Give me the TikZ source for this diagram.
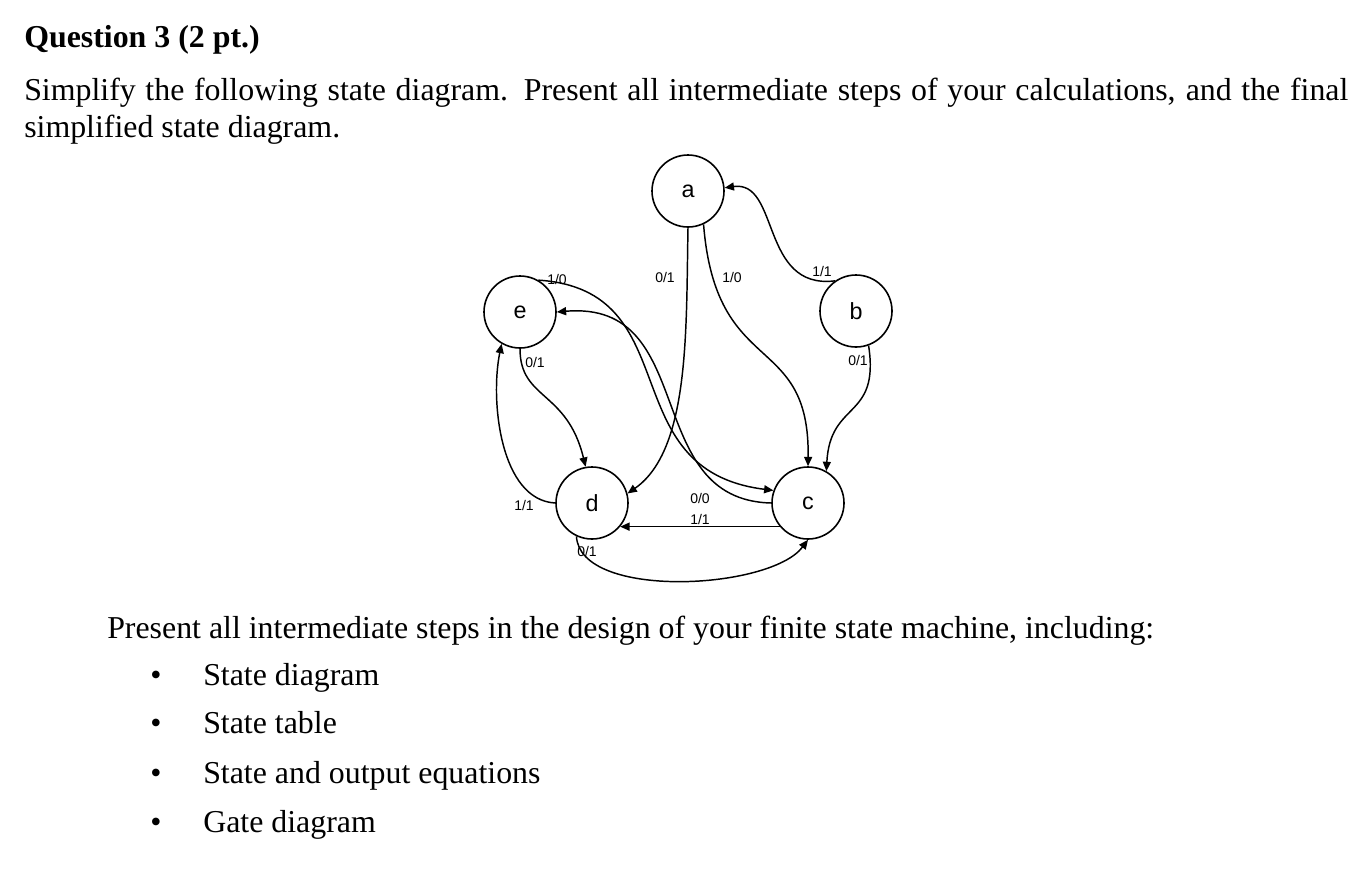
\documentclass[tikz,border=0pt]{standalone}
\usepackage{fontspec}
\setmainfont{Liberation Serif}
\newfontfamily\dsans{Liberation Sans}
\usetikzlibrary{arrows.meta}
\begin{document}
\begin{tikzpicture}[x=0.75pt,y=-0.75pt,
 st/.style={circle,draw,line width=1.2pt,minimum size=54pt,inner sep=0pt,font=\dsans\fontsize{17.5}{17.5}\selectfont},
 tr/.style={line width=1.1pt,-{Triangle[length=7pt,width=6pt]}},
 lb/.style={font=\dsans\fontsize{10.5}{11}\selectfont,inner sep=0pt},
 txt/.style={font=\fontsize{23.9}{28}\selectfont,inner sep=0pt,anchor=base west}]
\useasboundingbox (0,0) rectangle (1370,871);
\node[txt,font=\bfseries\fontsize{23.9}{28}\selectfont] (q) at (24,47) {Question 3 (2 pt.)};
\node[txt,text width=993pt,align=justify,anchor=base west] (p) at (24,100) {Simplify the following state diagram. Present all intermediate steps of your calculations, and the final simplified state diagram.};
\node[txt] (pr) at (107,638) {Present all intermediate steps in the design of your finite state machine, including:};
\foreach \y/\t [count=\i] in {685/State diagram,733/State table,783/State and output equations,832/Gate diagram}{
 \node[txt] (b\i) at (150,\y) {•};
 \node[txt] (t\i) at (203,\y) {\t};}
\node[st] (a) at (688,191) {a};
\node[st] (b) at (856,311) {b};
\node[st] (e) at (520,312) {e};
\node[st] (d) at (592,503) {d};
\node[st] (c) at (808,503) {c};
\draw[tr] (a.270) .. controls (686,330) and (690,450) .. (d.15);
\draw[tr] (a.-65) .. controls (716,380) and (810,330) .. (c.90);
\draw[tr] (b.125) .. controls (760,290) and (780,180) .. (a.5);
\draw[tr] (b.-70) .. controls (880,420) and (830,400) .. (c.60);
\draw[tr] (e.60) .. controls (690,290) and (610,470) .. (c.160);
\draw[tr] (c.180) .. controls (640,500) and (700,300) .. (e.0);
\draw[tr] (c.-140) -- (d.-40);
\draw[tr] (d.-115) .. controls (580,600) and (770,590) .. (c.-90);
\draw[tr] (d.180) .. controls (500,500) and (490,400) .. (e.-120);
\draw[tr] (e.-90) .. controls (520,400) and (567,390) .. (d.100);
\node[lb] (l1) at (665,277) {0/1};
\node[lb] (l2) at (732,277) {1/0};
\node[lb] (l3) at (822,271) {1/1};
\node[lb] (l4) at (858,360) {0/1};
\node[lb] (l5) at (557,279) {1/0};
\node[lb] (l6) at (700,498) {0/0};
\node[lb] (l7) at (700,519) {1/1};
\node[lb] (l8) at (587,551) {0/1};
\node[lb] (l9) at (524,505) {1/1};
\node[lb] (l10) at (535,362) {0/1};
\end{tikzpicture}
\end{document}
